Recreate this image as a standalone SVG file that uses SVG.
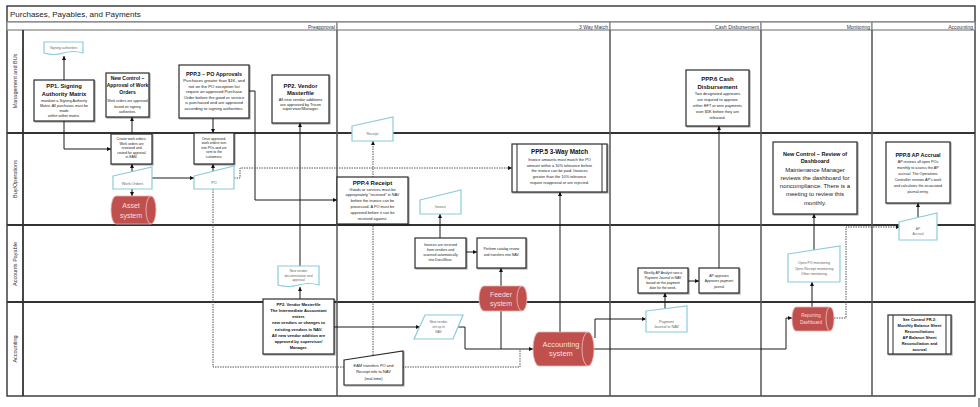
<svg xmlns="http://www.w3.org/2000/svg" width="980" height="407" viewBox="0 0 980 407">
<style>
text{font-family:"Liberation Sans",Arial,sans-serif}
.box{fill:#fff;stroke:#2b2b2b;stroke-width:1.2;filter:url(#sh)}
.blue{fill:#fff;stroke:#8ccbdc;stroke-width:1.2}
.red{fill:#c0504d;stroke:#e9b3b1;stroke-width:0.8}
.inner{fill:none;stroke:#eec3c1;stroke-width:0.8}
.frame{fill:none;stroke:#333;stroke-width:1.4}
.lane{stroke:#333;stroke-width:1.8}
.phase{stroke:#555;stroke-width:1.5}
.hdr{fill:#fff;stroke:#8c8c8c;stroke-width:1.3}
.ht{font-size:5px;fill:#2e3a4f;text-anchor:end}
.ll{font-size:5.5px;fill:#333;text-anchor:middle}
.tt{font-weight:bold;text-anchor:middle;fill:#111}
.bt{text-anchor:middle;fill:#222}
.st{text-anchor:middle;fill:#666}
.rt{text-anchor:middle;fill:#f7dedd}
.conn path{fill:none;stroke:#1a1a1a;stroke-width:1}
.conn path.dash{stroke:#555;stroke-dasharray:1.5 1}
</style>
<defs>
<filter id="sh" x="-10%" y="-10%" width="130%" height="130%">
<feDropShadow dx="1" dy="1" stdDeviation="0.6" flood-color="#000" flood-opacity="0.35"/>
</filter>
<marker id="a" viewBox="0 0 6 6" refX="6" refY="3" markerWidth="4" markerHeight="4" orient="auto">
<path d="M0,0 L6,3 L0,6 Z" fill="#111"/>
</marker>
</defs>

<g id="frame">
<rect class="frame" x="7" y="6" width="968" height="390"/>
<text x="10" y="17" font-size="8px" fill="#222">Purchases, Payables, and Payments</text>
<line x1="7" y1="22" x2="975" y2="22" stroke="#333" stroke-width="1.2"/>
<rect class="hdr" x="7" y="22" width="330" height="8"/>
<rect class="hdr" x="337" y="22" width="273" height="8"/>
<rect class="hdr" x="610" y="22" width="151" height="8"/>
<rect class="hdr" x="761" y="22" width="111" height="8"/>
<rect class="hdr" x="872" y="22" width="103" height="8"/>
<text class="ht" x="335" y="28.5">Preapproval</text>
<text class="ht" x="608" y="28.5">3 Way Match</text>
<text class="ht" x="759" y="28.5">Cash Disbursement</text>
<text class="ht" x="870" y="28.5">Monitoring</text>
<text class="ht" x="973" y="28.5">Accounting</text>
<line class="lane" x1="23" y1="30" x2="23" y2="396"/>
<line class="lane" x1="7" y1="133" x2="975" y2="133"/>
<line class="lane" x1="7" y1="225" x2="975" y2="225"/>
<line class="lane" x1="7" y1="302" x2="975" y2="302"/>
<line class="phase" x1="337" y1="30" x2="337" y2="396"/>
<line class="phase" x1="610" y1="30" x2="610" y2="396"/>
<line class="phase" x1="761" y1="30" x2="761" y2="396"/>
<line class="phase" x1="872" y1="30" x2="872" y2="396"/>
<text class="ll" transform="translate(17,81) rotate(-90)">Management and BUs</text>
<text class="ll" transform="translate(17,179) rotate(-90)">Buy/Operations</text>
<text class="ll" transform="translate(17,264) rotate(-90)">Accounts Payable</text>
<text class="ll" transform="translate(17,349) rotate(-90)">Accounting</text>
<line x1="979" y1="398" x2="979" y2="407" stroke="#333" stroke-width="1"/>
</g>

<g class="conn" id="connectors">
<path d="M64,80 V56" marker-end="url(#a)"/>
<path d="M64,121 V149 H111" marker-end="url(#a)"/>
<path d="M132,134 V117" marker-end="url(#a)"/>
<path d="M132,171.5 V164" marker-end="url(#a)"/>
<path d="M132,189 V196" marker-end="url(#a)"/>
<path d="M152,178 H194" marker-end="url(#a)"/>
<path d="M213,171 V164" marker-end="url(#a)"/>
<path d="M213,118 V133" marker-end="url(#a)"/>
<path d="M249,91 H255 V200 H337" marker-end="url(#a)"/>
<path d="M300,266 V123" marker-end="url(#a)"/>
<path d="M300,299 V287" marker-end="url(#a)"/>
<path class="dash" d="M234,178 H240 V168 H512" marker-end="url(#a)"/>
<path class="dash" d="M213,189 V367 H520 V349"/>
<path class="dash" d="M373,355 V141" marker-end="url(#a)"/>
<path d="M334,327 H420" marker-end="url(#a)"/>
<path d="M458,327 H465 V349 H533" marker-end="url(#a)"/>
<path d="M501,311 V349"/>
<path d="M501,286 V268" marker-end="url(#a)"/>
<path d="M466,252 H477" marker-end="url(#a)"/>
<path d="M440,238 V214" marker-end="url(#a)"/>
<path d="M560,332 V192" marker-end="url(#a)"/>
<path d="M595,338 V319 H646" marker-end="url(#a)"/>
<path d="M594,349 H786 V318 H792" marker-end="url(#a)"/>
<path d="M665,309 V293" marker-end="url(#a)"/>
<path d="M688,281 H699" marker-end="url(#a)"/>
<path d="M719,268 V126" marker-end="url(#a)"/>
<path d="M812,307 V282" marker-end="url(#a)"/>
<path d="M814,250 V214" marker-end="url(#a)"/>
<path class="dash" d="M834,318 H846 V227 H900" marker-end="url(#a)"/>
<path d="M918,217 V203" marker-end="url(#a)"/>
</g>

<g id="signing-doc">
<path class="blue" d="M44,42 H83 V53 Q73.25,50 63.5,53 Q53.75,56 44,53 Z"/>
<text class="st" x="63.5" y="49" font-size="3.3px">Signing authorities</text>
</g>

<g id="pp1">
<rect class="box" x="34" y="80" width="60" height="41"/>
<text class="tt" x="64" y="88" font-size="5.8px">PP1. Signing</text>
<text class="tt" x="64" y="95.5" font-size="5.8px">Authority Matrix</text>
<text class="bt" x="64" y="102" font-size="3.7px">mandate a Signing Authority</text>
<text class="bt" x="64" y="107" font-size="3.7px">Matrix. All purchases must be</text>
<text class="bt" x="64" y="112" font-size="3.7px">made</text>
<text class="bt" x="64" y="117" font-size="3.7px">within within matrix.</text>
</g>

<g id="new-control-wo">
<rect class="box" x="106" y="73" width="43" height="44"/>
<text class="tt" x="127.5" y="80" font-size="5px">New Control –</text>
<text class="tt" x="127.5" y="87" font-size="5px">Approval of Work</text>
<text class="tt" x="127.5" y="94" font-size="5px">Orders</text>
<text class="bt" x="127.5" y="102" font-size="3.5px">Work orders are approved</text>
<text class="bt" x="127.5" y="107.5" font-size="3.5px">based on signing</text>
<text class="bt" x="127.5" y="112.5" font-size="3.5px">authorities.</text>
</g>

<g id="ppp3">
<rect class="box" x="179" y="65" width="70" height="53"/>
<text class="tt" x="214" y="76" font-size="5.4px">PPP.3 – PO Approvals</text>
<text class="bt" x="214" y="82" font-size="4.2px">Purchases greater than $1K, and</text>
<text class="bt" x="214" y="87.6" font-size="4.2px">not on the PO exception list</text>
<text class="bt" x="214" y="93.2" font-size="4.2px">require an approved Purchase</text>
<text class="bt" x="214" y="98.8" font-size="4.2px">Order before the good or service</text>
<text class="bt" x="214" y="104.4" font-size="4.2px">is purchased and are approved</text>
<text class="bt" x="214" y="110" font-size="4.2px">according to signing authorities.</text>
</g>

<g id="pp2">
<rect class="box" x="272" y="75" width="57" height="48"/>
<text class="tt" x="300.5" y="87.5" font-size="5.8px">PP2. Vendor</text>
<text class="tt" x="300.5" y="95" font-size="5.8px">Masterfile</text>
<text class="bt" x="300.5" y="101" font-size="4px">All new vendor additions</text>
<text class="bt" x="300.5" y="105.5" font-size="4px">are approved by Tricon</text>
<text class="bt" x="300.5" y="110" font-size="4px">supervisor/Manager.</text>
</g>

<g id="ppp6">
<rect class="box" x="686" y="70" width="63" height="56"/>
<text class="tt" x="717.5" y="80.5" font-size="6px">PPP.6 Cash</text>
<text class="tt" x="717.5" y="88.5" font-size="6px">Disbursement</text>
<text class="bt" x="717.5" y="94.5" font-size="3.9px">Two designated approvers</text>
<text class="bt" x="717.5" y="100.5" font-size="3.9px">are required to approve</text>
<text class="bt" x="717.5" y="106.5" font-size="3.9px">either EFT or wire payments</text>
<text class="bt" x="717.5" y="112.5" font-size="3.9px">over $5K before they are</text>
<text class="bt" x="717.5" y="118.5" font-size="3.9px">released.</text>
</g>

<g id="create-wo">
<rect class="box" x="111" y="134" width="41" height="30"/>
<text class="bt" x="131.5" y="140" font-size="3.4px">Create work orders.</text>
<text class="bt" x="131.5" y="144.5" font-size="3.4px">Work orders are</text>
<text class="bt" x="131.5" y="149" font-size="3.4px">reviewed and</text>
<text class="bt" x="131.5" y="153.5" font-size="3.4px">routed for approval</text>
<text class="bt" x="131.5" y="158" font-size="3.4px">in EAM.</text>
</g>

<g id="once-approved">
<rect class="box" x="194" y="133" width="40" height="31"/>
<text class="bt" x="214" y="139.5" font-size="3.4px">Once approved,</text>
<text class="bt" x="214" y="144" font-size="3.4px">work orders turn</text>
<text class="bt" x="214" y="148.5" font-size="3.4px">into POs and are</text>
<text class="bt" x="214" y="153" font-size="3.4px">sent to the</text>
<text class="bt" x="214" y="157.5" font-size="3.4px">customers.</text>
</g>

<g id="work-orders">
<polygon class="blue" points="113,176 152,167 152,189 113,189"/>
<text class="st" x="132.5" y="184.5" font-size="3.8px">Work Orders</text>
</g>

<g id="po">
<polygon class="blue" points="194,176 234,166 234,189 194,189"/>
<text class="st" x="214" y="184" font-size="3.8px">PO</text>
</g>

<g id="asset-system">
<path class="red" d="M116,196 H151 A5,14 0 0 1 151,224 H116 A5,14 0 0 1 116,196 Z"/>
<path class="inner" d="M151,196 A5,14 0 0 0 151,224"/>
<text class="rt" x="131" y="208" font-size="7px">Asset</text>
<text class="rt" x="131" y="218" font-size="7px">system</text>
</g>

<g id="receipt">
<polygon class="blue" points="352,126 393,117 393,141 352,141"/>
<text class="st" x="372.5" y="134.5" font-size="3.5px">Receipt</text>
</g>

<g id="ppp4">
<rect class="box" x="337" y="177" width="71" height="47"/>
<text class="tt" x="372.5" y="184.5" font-size="6px">PPP.4 Receipt</text>
<text class="bt" x="372.5" y="190.5" font-size="3.9px">Goods or services must be</text>
<text class="bt" x="372.5" y="196.3" font-size="3.9px">appropriately "received" in NAV</text>
<text class="bt" x="372.5" y="202.1" font-size="3.9px">before the invoice can be</text>
<text class="bt" x="372.5" y="207.9" font-size="3.9px">processed. A PO must be</text>
<text class="bt" x="372.5" y="213.7" font-size="3.9px">approved before it can be</text>
<text class="bt" x="372.5" y="219.5" font-size="3.9px">received against.</text>
</g>

<g id="invoice">
<polygon class="blue" points="420,200 461,190 461,214 420,214"/>
<text class="st" x="440.5" y="207.5" font-size="3.5px">Invoice</text>
</g>

<g id="ppp5">
<rect class="box" x="512" y="144" width="95" height="48"/>
<line x1="517" y1="144" x2="517" y2="192" stroke="#2b2b2b" stroke-width="1"/>
<line x1="602" y1="144" x2="602" y2="192" stroke="#2b2b2b" stroke-width="1"/>
<text class="tt" x="559.5" y="154" font-size="6.3px">PPP.5 3-Way Match</text>
<text class="bt" x="559.5" y="161" font-size="3.9px">Invoice amounts must match the PO</text>
<text class="bt" x="559.5" y="166.7" font-size="3.9px">amount within a 10% tolerance before</text>
<text class="bt" x="559.5" y="172.4" font-size="3.9px">the invoice can be paid. Invoices</text>
<text class="bt" x="559.5" y="178.1" font-size="3.9px">greater than the 10% tolerance</text>
<text class="bt" x="559.5" y="183.8" font-size="3.9px">require reapproval or are rejected.</text>
</g>

<g id="new-control-dashboard">
<rect class="box" x="773" y="142" width="84" height="72"/>
<text class="tt" x="815" y="156" font-size="5.5px">New Control – Review of</text>
<text class="tt" x="815" y="163" font-size="5.5px">Dashboard</text>
<text class="bt" x="815" y="171.5" font-size="6px">Maintenance Manager</text>
<text class="bt" x="815" y="179.8" font-size="6px">reviews the dashboard for</text>
<text class="bt" x="815" y="188.1" font-size="6px">noncompliance. There is a</text>
<text class="bt" x="815" y="196.4" font-size="6px">meeting to review this</text>
<text class="bt" x="815" y="204.7" font-size="6px">monthly.</text>
</g>

<g id="ppp8">
<rect class="box" x="886" y="142" width="64" height="61"/>
<text class="tt" x="918" y="157" font-size="5.5px">PPP.8 AP Accrual</text>
<text class="bt" x="918" y="162.5" font-size="3.7px">AP reviews all open POs</text>
<text class="bt" x="918" y="168.6" font-size="3.7px">monthly to assess the AP</text>
<text class="bt" x="918" y="174.7" font-size="3.7px">accrual. The Operations</text>
<text class="bt" x="918" y="180.8" font-size="3.7px">Controller reviews AP's work</text>
<text class="bt" x="918" y="186.9" font-size="3.7px">and calculates the associated</text>
<text class="bt" x="918" y="193" font-size="3.7px">journal entry.</text>
</g>

<g id="ap-accrual-doc">
<polygon class="blue" points="899,222 937,213 937,240 899,240"/>
<text class="st" x="918" y="229.5" font-size="3.3px">AP</text>
<text class="st" x="918" y="235" font-size="3.3px">Accrual</text>
</g>

<g id="vendor-doc">
<path class="blue" d="M278,266 H319 V285 Q308.75,282 298.5,285 Q288.25,288 278,285 Z"/>
<text class="st" x="298.5" y="272" font-size="3.3px">New vendor</text>
<text class="st" x="298.5" y="276.5" font-size="3.3px">documentation and</text>
<text class="st" x="298.5" y="281" font-size="3.3px">approval</text>
</g>

<g id="invoices-received">
<rect class="box" x="415" y="238" width="51" height="30"/>
<text class="bt" x="440.5" y="245.5" font-size="3.5px">Invoices are received</text>
<text class="bt" x="440.5" y="250.7" font-size="3.5px">from vendors and</text>
<text class="bt" x="440.5" y="255.9" font-size="3.5px">scanned automatically</text>
<text class="bt" x="440.5" y="261.1" font-size="3.5px">into DocuWare.</text>
</g>

<g id="perform-review">
<rect class="box" x="477" y="238" width="49" height="30"/>
<text class="bt" x="501.5" y="250" font-size="3.5px">Perform catalog review</text>
<text class="bt" x="501.5" y="256" font-size="3.5px">and transfers into NAV.</text>
</g>

<g id="feeder-system">
<path class="red" d="M484,286 H522 A5,12.5 0 0 1 522,311 H484 A5,12.5 0 0 1 484,286 Z"/>
<path class="inner" d="M522,286 A5,12.5 0 0 0 522,311"/>
<text class="rt" x="501" y="296.5" font-size="7px">Feeder</text>
<text class="rt" x="501" y="306" font-size="7px">system</text>
</g>

<g id="weekly-ap">
<rect class="box" x="638" y="268" width="50" height="25"/>
<text class="bt" x="663" y="274" font-size="3.4px">Weekly AP Analyst runs a</text>
<text class="bt" x="663" y="279" font-size="3.4px">Payment Journal in NAV</text>
<text class="bt" x="663" y="284" font-size="3.4px">based on the payment</text>
<text class="bt" x="663" y="289" font-size="3.4px">date for the week.</text>
</g>

<g id="ap-approves">
<rect class="box" x="699" y="268" width="40" height="25"/>
<text class="bt" x="719" y="276.5" font-size="3.4px">AP approves</text>
<text class="bt" x="719" y="282" font-size="3.4px">Approves payment</text>
<text class="bt" x="719" y="287.5" font-size="3.4px">journal</text>
</g>

<g id="open-po-monitoring">
<polygon class="blue" points="788,254 840,246 840,282 788,282"/>
<text class="st" x="814" y="264" font-size="3.5px">Open PO monitoring</text>
<text class="st" x="814" y="269.5" font-size="3.5px">Open Receipt monitoring</text>
<text class="st" x="814" y="275" font-size="3.5px">Other monitoring</text>
</g>

<g id="pp2-vendor-masterfile-acct">
<rect class="box" x="263" y="299" width="71" height="55"/>
<text class="tt" x="298.5" y="306" font-size="4.1px">PP2. Vendor Masterfile</text>
<text class="tt" x="298.5" y="312.1" font-size="4.1px">The Intermediate Accountant</text>
<text class="tt" x="298.5" y="318.3" font-size="4.1px">enters</text>
<text class="tt" x="298.5" y="324.4" font-size="4.1px">new vendors or changes to</text>
<text class="tt" x="298.5" y="330.6" font-size="4.1px">existing vendors in NAV.</text>
<text class="tt" x="298.5" y="336.7" font-size="4.1px">All new vendor addition are</text>
<text class="tt" x="298.5" y="342.9" font-size="4.1px">approved by supervisor/</text>
<text class="tt" x="298.5" y="349" font-size="4.1px">Manager.</text>
</g>

<g id="new-vendor-setup">
<polygon class="blue" points="425,315 463,315 453,339 414,339"/>
<text class="st" x="438.5" y="323" font-size="3.3px">New vendor</text>
<text class="st" x="438.5" y="328" font-size="3.3px">set up in</text>
<text class="st" x="438.5" y="333" font-size="3.3px">NAV</text>
</g>

<g id="eam-transfers">
<polygon class="box" points="344,360 403,351 403,385 344,385"/>
<text class="bt" x="373.5" y="366.5" font-size="4px">EAM transfers PO and</text>
<text class="bt" x="373.5" y="373" font-size="4px">Receipt info to NAV</text>
<text class="bt" x="373.5" y="379.5" font-size="4px">(real-time)</text>
</g>

<g id="accounting-system">
<path class="red" d="M539,332 H588 A6,17 0 0 1 588,366 H539 A6,17 0 0 1 539,332 Z"/>
<path class="inner" d="M588,332 A6,17 0 0 0 588,366"/>
<text class="rt" x="561" y="346.5" font-size="7.5px">Accounting</text>
<text class="rt" x="561" y="356" font-size="7.5px">system</text>
</g>

<g id="payment-journal">
<polygon class="blue" points="646,311 687,306 687,332 646,332"/>
<text class="st" x="666.5" y="322.5" font-size="3.8px">Payment</text>
<text class="st" x="666.5" y="328" font-size="3.8px">Journal in NAV</text>
</g>

<g id="reporting-dashboard">
<path class="red" d="M796,307 H830 A4,12 0 0 1 830,331 H796 A4,12 0 0 1 796,307 Z"/>
<path class="inner" d="M830,307 A4,12 0 0 0 830,331"/>
<text class="rt" x="811" y="317" font-size="4.5px">Reporting</text>
<text class="rt" x="811" y="323.5" font-size="4.5px">Dashboard</text>
</g>

<g id="see-control-fr2">
<rect class="box" x="888" y="315" width="63" height="39"/>
<line x1="893" y1="315" x2="893" y2="354" stroke="#2b2b2b" stroke-width="1"/>
<line x1="946" y1="315" x2="946" y2="354" stroke="#2b2b2b" stroke-width="1"/>
<text class="tt" x="919.5" y="321" font-size="4px">See Control FR.2:</text>
<text class="tt" x="919.5" y="327" font-size="4px">Monthly Balance Sheet</text>
<text class="tt" x="919.5" y="333" font-size="4px">Reconciliations</text>
<text class="tt" x="919.5" y="339" font-size="4px">AP Balance Sheet</text>
<text class="tt" x="919.5" y="345" font-size="4px">Reconciliation and</text>
<text class="tt" x="919.5" y="351" font-size="4px">accrual</text>
</g>
</svg>
